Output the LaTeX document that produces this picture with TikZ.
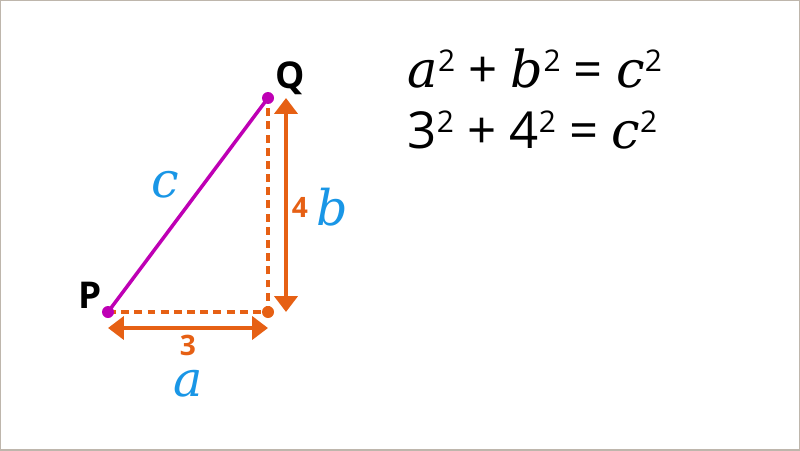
\documentclass[tikz,border=0pt]{standalone}
\usepackage{fontspec}
\setmainfont{Open Sans}
\newfontfamily\varfont{DejaVu Serif}
\usetikzlibrary{calc,arrows.meta}

\definecolor{sideorange}{RGB}{230,96,20}
\definecolor{hypmagenta}{RGB}{190,0,180}
\definecolor{letterblue}{RGB}{25,150,230}
\definecolor{framegray}{RGB}{190,182,172}

\newcommand{\sqr}{\raisebox{0.62ex}{\fontsize{17}{17}\selectfont 2}}
\newcommand{\var}[1]{{\varfont\itshape #1}}

\begin{document}
\begin{tikzpicture}[
    sidearrow/.style={sideorange,line width=2.8pt,{Triangle[length=9pt,width=13pt]}-{Triangle[length=9pt,width=13pt]}},
    sidedash/.style={sideorange,line width=2.2pt,dash pattern=on 4.5pt off 3pt},
    letter/.style={letterblue,inner sep=0pt,font=\fontsize{28}{28}\selectfont},
    number/.style={sideorange,inner sep=0pt,font=\fontsize{16}{16}\selectfont\bfseries},
    vertex/.style={inner sep=0pt,font=\fontsize{21}{21}\selectfont\bfseries},
    eqn/.style={anchor=west,inner sep=0pt,font=\fontsize{29}{29}\selectfont}
  ]
  \path[use as bounding box] (0,0) rectangle (16,9);
  \draw[framegray,line width=1.5pt] (0,0) rectangle (16,9);

  \coordinate (P) at (2.16,2.76);
  \coordinate (Q) at (5.36,7.04);
  \coordinate (R) at (5.36,2.76);

  % dashed legs
  \draw[sidedash] (P) -- (R) -- (Q);
  \fill[sideorange] (R) circle (0.12);

  % hypotenuse
  \draw[hypmagenta,line width=2pt] (P) -- (Q);
  \fill[hypmagenta] (P) circle (0.12);
  \fill[hypmagenta] (Q) circle (0.12);

  % measured sides
  \coordinate (A1) at ($ (P) + (0,-0.32) $);
  \coordinate (A2) at ($ (R) + (0,-0.32) $);
  \draw[sidearrow] (A1) -- (A2);
  \coordinate (B1) at ($ (R) + (0.36,0) $);
  \coordinate (B2) at ($ (Q) + (0.36,0) $);
  \draw[sidearrow] (B1) -- (B2);

  \node[vertex] (labP) at (1.8,3.1) {P};
  \node[vertex] (labQ) at (5.8,7.44) {Q};

  \node[number] (three) at (3.76,2.1) {3};
  \node[letter] (sidea) at (3.76,1.32) {\var{a}};
  \node[number] (four) at (6.0,4.86) {4};
  \node[letter] (sideb) at (6.64,4.86) {\var{b}};
  \node[letter] (sidec) at (3.3,5.3) {\var{c}};

  \node[eqn] (law) at (8.15,7.62) {\var{a}\sqr{} + \var{b}\sqr{} = \var{c}\sqr};
  \node[eqn] (sub) at (8.15,6.4) {3\sqr{} + 4\sqr{} = \var{c}\sqr};
\end{tikzpicture}
\end{document}
